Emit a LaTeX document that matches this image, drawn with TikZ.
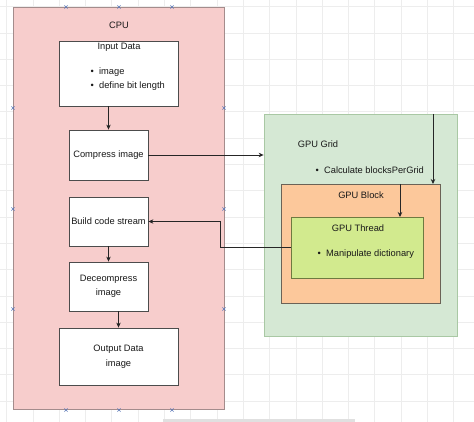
\documentclass[tikz,border=0pt]{standalone}
\usepackage{fontspec}
\setmainfont{Liberation Sans}
\usetikzlibrary{arrows.meta}
\definecolor{cpufill}{HTML}{F7CDCC}
\definecolor{cpudraw}{HTML}{A48C8C}
\definecolor{gridfill}{HTML}{D5E8D4}
\definecolor{griddraw}{HTML}{A9C8A4}
\definecolor{blockfill}{HTML}{FCC89B}
\definecolor{blockdraw}{HTML}{6B6256}
\definecolor{threadfill}{HTML}{D2EA8E}
\definecolor{threaddraw}{HTML}{6E7A40}
\definecolor{bggrid}{HTML}{EDEDED}
\definecolor{mk}{HTML}{5A78B8}
\begin{document}
\begin{tikzpicture}[x=1pt,y=-1pt,
  every node/.style={font=\fontsize{9.3}{14.5}\selectfont, text=black!90},
  procbox/.style={draw=black!70, fill=white, line width=0.8pt},
  conn/.style={draw=black!85, line width=0.7pt, -{Stealth[length=5pt,width=4.5pt]}},
  marker/.style={draw=mk, line width=0.7pt},
  txt/.style={inner sep=0pt, anchor=center}
]
\useasboundingbox (0,0) rectangle (474,422);
\fill[white] (0,0) rectangle (474,422);
% background grid
\foreach \i in {0,...,18} {
  \draw[bggrid, line width=0.5pt] ({6.5+26.3*\i},0) -- ({6.5+26.3*\i},422);
}
\foreach \j in {0,...,16} {
  \draw[bggrid, line width=0.5pt] (0,{6.5+26.3*\j}) -- (474,{6.5+26.3*\j});
}
% bottom gray bar
\fill[black!12] (163,419) rectangle (355,422);

% CPU container
\node[draw=cpudraw, fill=cpufill, line width=0.9pt, minimum width=211pt, minimum height=402pt, inner sep=0pt] (cpu) at (118.5,208.5) {};
\node[txt] (cputxt) at (119,25) {CPU};

% GPU containers
\node[draw=griddraw, fill=gridfill, line width=0.8pt, minimum width=193pt, minimum height=222pt, inner sep=0pt] (gpugrid) at (360.5,225) {};
\node[draw=blockdraw, fill=blockfill, line width=0.8pt, minimum width=159pt, minimum height=119pt, inner sep=0pt] (gpublock) at (360.5,243.5) {};
\node[draw=threaddraw, fill=threadfill, line width=0.8pt, minimum width=132pt, minimum height=61pt, inner sep=0pt] (gputhread) at (357,247.5) {};

\node[txt] (gridtxt) at (318,144) {GPU Grid};
\node[txt, anchor=west] (gridbul) at (315.5,170) {\textbullet\ \ Calculate blocksPerGrid};
\node[txt] (blocktxt) at (361,195) {GPU Block};
\node[txt] (threadtxt) at (358,228) {GPU Thread};
\node[txt, anchor=west] (threadbul) at (317.5,254) {\textbullet\ \ Manipulate dictionary};

% CPU process boxes
\node[procbox, minimum width=119pt, minimum height=65pt, inner sep=0pt] (input) at (118.5,73.5) {};
\node[txt] (inputtxt) at (119,47) {Input Data};
\node[txt, anchor=west] (b1) at (90.5,72) {\textbullet\ \ image};
\node[txt, anchor=west] (b2) at (90.5,86) {\textbullet\ \ define bit length};

\node[procbox, minimum width=79pt, minimum height=50pt, inner sep=0pt] (compress) at (108.5,155) {Compress image};
\node[procbox, minimum width=79pt, minimum height=49pt, inner sep=0pt] (build) at (108.5,221.5) {Build code stream};
\node[procbox, minimum width=79pt, minimum height=49pt, inner sep=0pt, align=center] (decomp) at (108.5,286.5) {Deceompress\\image};
\node[procbox, minimum width=119pt, minimum height=57pt, inner sep=0pt, align=center] (output) at (118.5,356.5) {Output Data\\image};

% connectors
\draw[conn] (input.south -| compress.north) -- (compress.north);
\draw[conn] (build.south) -- (decomp.north);
\draw[conn] (decomp.south -| output.north) -- (output.north);
\draw[conn] (compress.east) -- (compress.east -| gpugrid.west);
\coordinate (topin) at (433,114);
\draw[conn] (topin) -- (433,184);
\draw[conn] (400,184) -- (400,217);
\draw[conn] (gputhread.west) -- (220,247.5) -- (220,221.5) -- (build.east);

% selection markers
\foreach \p in {(66,7),(119,7),(172,7),(66,410),(119,410),(172,410),(13,108),(13,209),(13,309),(224,108),(224,209),(224,309)} {
  \draw[marker] \p ++(-1.6,-1.6) -- ++(3.2,3.2) \p ++(-1.6,1.6) -- ++(3.2,-3.2);
}
\end{tikzpicture}
\end{document}
